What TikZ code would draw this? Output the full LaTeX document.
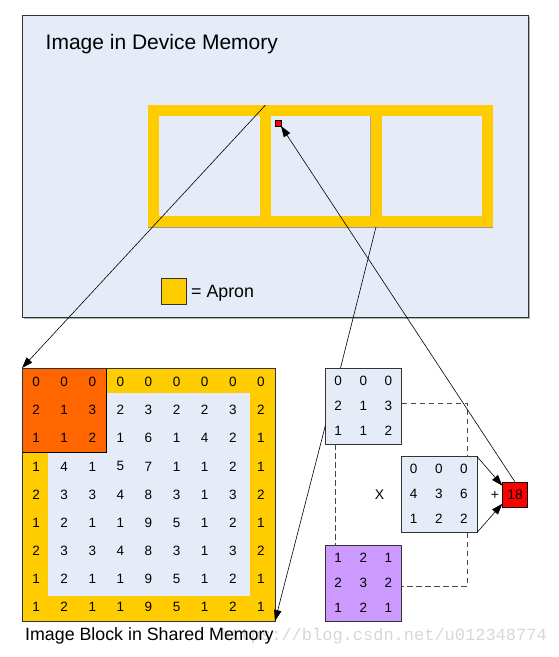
\documentclass[tikz,border=0pt]{standalone}
\usepackage{fontspec}
\setmainfont{Liberation Sans}
\newfontfamily\wmfont{Liberation Mono}
\usetikzlibrary{arrows.meta,calc}
\definecolor{bgblue}{RGB}{230,236,247}
\definecolor{apron}{RGB}{255,204,0}
\definecolor{orng}{RGB}{255,102,0}
\definecolor{purp}{RGB}{204,153,255}
\definecolor{edge}{RGB}{51,51,51}
\definecolor{wm}{RGB}{215,215,215}
\begin{document}
\begin{tikzpicture}[x=1pt,y=-1pt,
  box/.style={draw=edge, line width=0.8pt, inner sep=0, outer sep=0, anchor=north west},
  plain/.style={inner sep=0, outer sep=0, anchor=north west},
  num/.style={font=\fontsize{13.5}{15}\selectfont, inner sep=0},
  lbl/.style={font=\fontsize{17.8}{19}\selectfont, inner sep=0},
  conn/.style={line width=0.6pt, draw=black},
  tipped/.style={-{Triangle[length=11pt,width=7.5pt]}},
  dashline/.style={line width=0.9pt, draw=edge!90, dash pattern=on 5.5pt off 3.5pt}
]
\useasboundingbox (0,0) rectangle (558,657);

% ---------------- device memory ----------------
\fill[gray!60] (24,17) rectangle (530,319);
\node[box, fill=bgblue, minimum width=506pt, minimum height=302pt] (dev) at (22,15) {};
\node[lbl, font=\fontsize{21}{22}\selectfont, anchor=west] (title) at (45.5,44) {Image in Device Memory};

% yellow frame (apron) with three holes
\node[plain, fill=apron, minimum width=345pt, minimum height=122pt] (frame) at (148,105) {};
\draw[gray!80, line width=0.8pt] (148,227) -- (493,227);
\node[plain, fill=bgblue, minimum width=101pt, minimum height=100pt] (hole1) at (159,116) {};
\node[plain, fill=bgblue, minimum width=99pt, minimum height=100pt] (hole2) at (271,116) {};
\node[plain, fill=bgblue, minimum width=100pt, minimum height=100pt] (hole3) at (382,116) {};
\draw[gray!70, line width=0.8pt] (370,116) -- (370,216);
\coordinate (bartop) at (265.5,105);
\coordinate (barbot) at (376,227);

% red pixel
\node[box, draw=black, line width=0.5pt, fill=red, minimum width=6pt, minimum height=6pt] (px) at (275,120) {};

% legend
\node[box, fill=apron, minimum width=25pt, minimum height=26pt] (legsq) at (161.5,278.5) {};
\node[lbl, anchor=west] (legtxt) at (191,293) {= Apron};

% ---------------- shared memory block ----------------
\node[box, fill=apron, minimum width=253pt, minimum height=253pt] (grid) at (22,368) {};
\node[plain, fill=bgblue, minimum width=202.5pt, minimum height=202.5pt] (inner) at (47.5,393) {};
\node[box, draw=black, fill=orng, minimum width=84.3pt, minimum height=84.3pt] (filt) at (22,368) {};
\draw[edge, line width=0.8pt] (grid.north west) rectangle (grid.south east);

\foreach \row [count=\r] in {{0,0,0,0,0,0,0,0,0},{2,1,3,2,3,2,2,3,2},{1,1,2,1,6,1,4,2,1},
  {1,4,1,5,7,1,1,2,1},{2,3,3,4,8,3,1,3,2},{1,2,1,1,9,5,1,2,1},
  {2,3,3,4,8,3,1,3,2},{1,2,1,1,9,5,1,2,1},{1,2,1,1,9,5,1,2,1}}{
  \foreach \v [count=\c] in \row {
    \node[num] (g-\r-\c) at ({22+28.11*(\c-0.5)},{368+28.11*(\r-0.5)}) {\v};
  }
}

\node[lbl, anchor=east] (wmark) at (547,636) {\wmfont\fontsize{17}{18}\selectfont\color{wm}https://blog.csdn.net/u012348774};
\node[lbl, anchor=west] (gridlbl) at (25,636) {Image Block in Shared Memory};

% ---------------- small matrices ----------------
\node[box, fill=bgblue, minimum width=76pt, minimum height=76pt] (m1) at (325.5,368) {};
\node[box, fill=bgblue, minimum width=76pt, minimum height=76pt] (m2) at (401,456.5) {};
\node[box, fill=purp, minimum width=76pt, minimum height=76pt] (m3) at (325.5,545) {};

\foreach \row [count=\r] in {{0,0,0},{2,1,3},{1,1,2}}{
  \foreach \v [count=\c] in \row {
    \node[num] (a-\r-\c) at ({325.5+25.2*(\c-0.5)},{368+25*(\r-0.5)}) {\v};}}
\foreach \row [count=\r] in {{0,0,0},{4,3,6},{1,2,2}}{
  \foreach \v [count=\c] in \row {
    \node[num] (b-\r-\c) at ({401+25.2*(\c-0.5)},{456.5+25*(\r-0.5)}) {\v};}}
\foreach \row [count=\r] in {{1,2,1},{2,3,2},{1,2,1}}{
  \foreach \v [count=\c] in \row {
    \node[num] (p-\r-\c) at ({325.5+25.2*(\c-0.5)},{545+25*(\r-0.5)}) {\v};}}

\node[num, font=\fontsize{14}{15}\selectfont] (times) at (379.5,495) {X};
\node[num, font=\fontsize{14}{15}\selectfont] (plus) at (495,495) {+};
\node[box, draw=black, fill=red, minimum width=25.5pt, minimum height=25.5pt] (res) at (502.3,482) {};
\node[num, font=\fontsize{14}{15}\selectfont] (restxt) at (res.center) {18};

% ---------------- connectors ----------------
\draw[dashline] ($(m1.north east)+(0,35)$) -| ($(m2.north west)+(66,0)$);
\draw[dashline] ($(m2.south west)+(66,0)$) |- ($(m3.north east)+(0,41)$);
\draw[dashline] ($(m1.south west)+(10,0)$) -- ($(m3.north west)+(10,0)$);

\draw[conn, tipped] (bartop) -- (grid.north west);
\draw[conn] (barbot) -- ($(m1.north west)+(15,0)$);
\draw[conn, tipped] ($(m1.north west)+(0,57)$) -- (grid.south east);
\draw[conn, tipped] (res.north) -- (px.south east);
\draw[conn, tipped] (m2.north east) -- ($(res.west)+(0,-9)$);
\draw[conn, tipped] (m2.south east) -- ($(res.west)+(0,9)$);
\end{tikzpicture}
\end{document}
